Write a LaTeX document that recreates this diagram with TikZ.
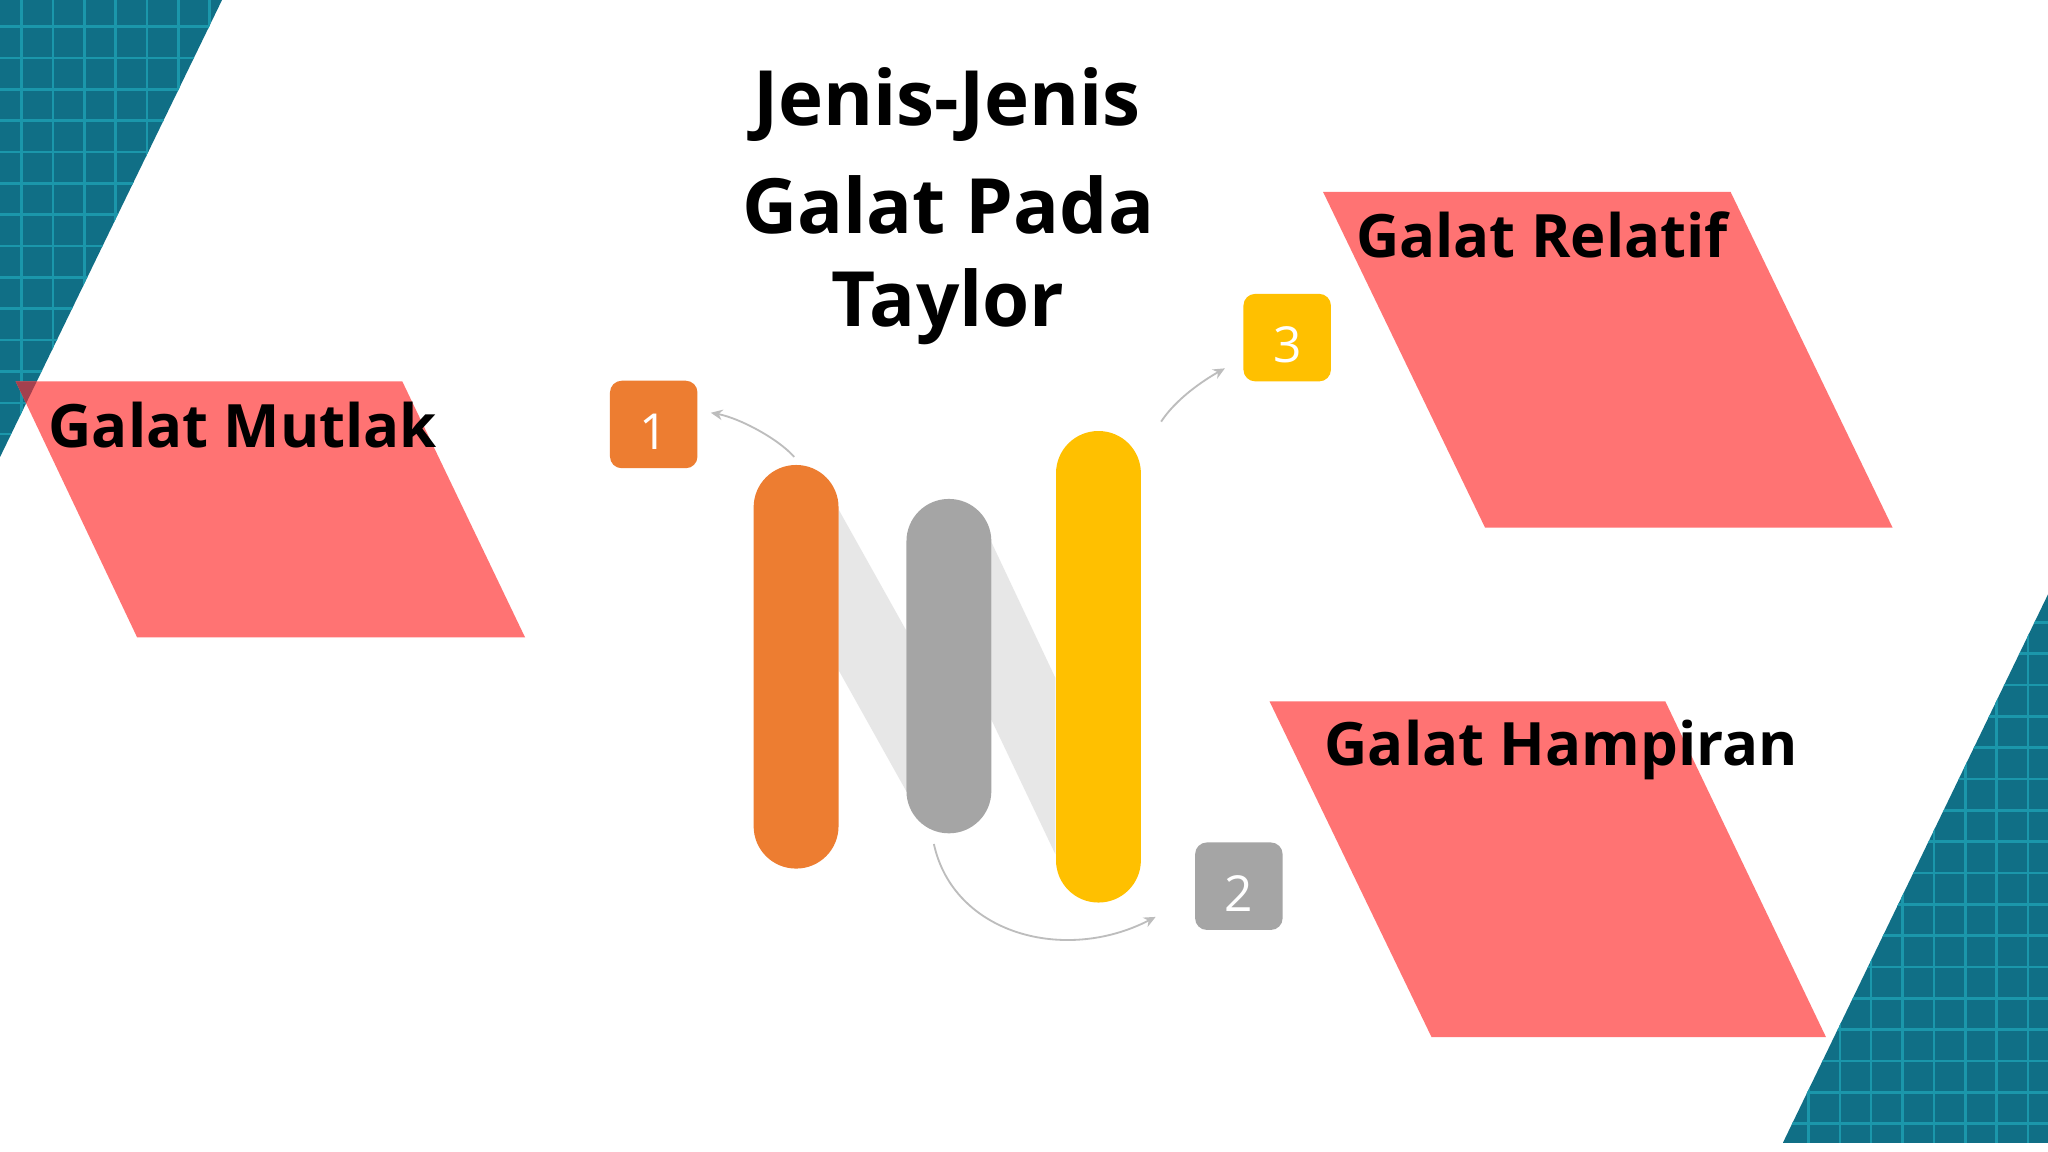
\documentclass[tikz,border=0pt]{standalone}
\usepackage{fontspec}
\setmainfont{Open Sans}
\usetikzlibrary{arrows.meta}
\definecolor{tealA}{HTML}{106F86}
\definecolor{tealB}{HTML}{1B97AB}
\definecolor{salmon}{HTML}{FF7373}
\definecolor{overlapred}{HTML}{A4404E}
\definecolor{borange}{HTML}{ED7D31}
\definecolor{bgray}{HTML}{A5A5A5}
\definecolor{byellow}{HTML}{FFC000}
\definecolor{bandgray}{HTML}{E7E7E7}
\definecolor{arrgray}{HTML}{BDBDBD}
\begin{document}
\begin{tikzpicture}[x=1pt,y=-1pt,
  bar/.style={rectangle, rounded corners=32.4pt, minimum width=65pt, inner sep=0pt},
  badge/.style={rectangle, rounded corners=9pt, minimum width=67pt, minimum height=67pt, inner sep=0pt, text=white, text height=38pt, text depth=0pt, font=\fontsize{38}{38}\selectfont},
  lbl/.style={anchor=base west, inner sep=0pt, font=\bfseries\fontsize{45.8}{45.8}\selectfont},
  ttl/.style={anchor=base, inner sep=0pt, font=\bfseries\fontsize{58.4}{58.4}\selectfont},
  conn/.style={draw=arrgray, line width=1.4pt, -{Stealth[length=9pt,width=8pt]}},
  gridline/.style={draw=tealB, line width=2pt}]
\useasboundingbox (0,0) rectangle (1568,882);
\fill[white] (0,0) rectangle (1568,882);
% top-left patterned triangle
\begin{scope}
  \clip (0,0) -- (170,0) -- (0,350) -- cycle;
  \fill[tealA] (0,0) rectangle (170,350);
  \foreach \i in {0,...,7} \draw[gridline] ({16.6+24*\i},0) -- ++(0,350);
  \foreach \j in {0,...,14} \draw[gridline] (0,{20.4+24*\j}) -- ++(170,0);
\end{scope}
% bottom-right patterned triangle
\begin{scope}
  \clip (1568,455) -- (1568,875) -- (1365,875) -- cycle;
  \fill[tealA] (1365,455) rectangle (1568,875);
  \foreach \i in {56,...,65} \draw[gridline] ({16.6+24*\i},455) -- ++(0,420);
  \foreach \j in {18,...,36} \draw[gridline] (1365,{20.4+24*\j}) -- ++(203,0);
\end{scope}
% parallelograms
\fill[salmon] (12,292) -- (308,292) -- (402,488) -- (105,488) -- cycle;
\begin{scope}
  \clip (0,0) -- (170,0) -- (0,350) -- cycle;
  \fill[overlapred] (12,292) -- (308,292) -- (402,488) -- (105,488) -- cycle;
\end{scope}
\fill[salmon] (1013,147) -- (1325,147) -- (1449,404) -- (1137,404) -- cycle;
\fill[salmon] (972,537) -- (1275,537) -- (1398,794) -- (1096,794) -- cycle;
% title
\node[ttl] (t1) at (725,96) {Jenis-Jenis};
\node[ttl] (t2) at (726,179) {Galat Pada};
\node[ttl] (t3) at (726,250) {Taylor};
% labels
\node[lbl] (mutlak) at (37,343) {Galat Mutlak};
\node[lbl] (relatif) at (1038,197) {Galat Relatif};
\node[lbl] (hampiran) at (1014,586) {Galat Hampiran};
% shadow bands
\fill[bandgray] (642,390) -- (694,483) -- (694,606) -- (642,513) -- cycle;
\fill[bandgray] (759,415) -- (808,519) -- (808,654) -- (759,551) -- cycle;
% bars
\node[bar, fill=borange, minimum height=309pt] (bar1) at (609.5,510.5) {};
\node[bar, fill=bgray, minimum height=256pt] (bar2) at (726.5,510) {};
\node[bar, fill=byellow, minimum height=361pt] (bar3) at (841,510.5) {};
% badges
\node[badge, fill=borange] (badge1) at (500.5,325) {1};
\node[badge, fill=bgray] (badge2) at (948.5,678.5) {2};
\node[badge, fill=byellow] (badge3) at (985.5,258.5) {3};
% connectors
\draw[conn] ([xshift=-1.5pt,yshift=6pt]bar1.north) .. controls (596,336) and (566,320) .. ([xshift=10pt,yshift=9pt]badge1.east);
\draw[conn] ([xshift=48pt,yshift=7pt]bar3.north) .. controls (900,306) and (920,292) .. ([xshift=-14pt,yshift=-23.5pt]badge3.west);
\draw[conn] ([xshift=-11.5pt,yshift=-8pt]bar2.south) .. controls (730,715) and (815,738) .. ([xshift=-30pt,yshift=-23.5pt]badge2.west);
\end{tikzpicture}
\end{document}
